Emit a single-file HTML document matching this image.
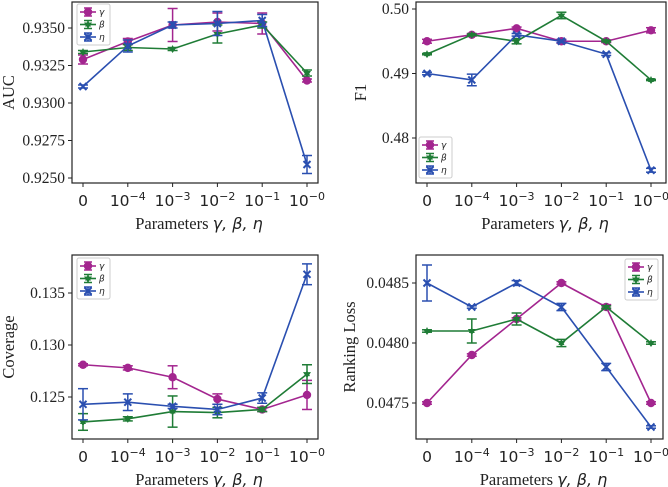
<!DOCTYPE html>
<html><head><meta charset="utf-8"><style>
html,body{margin:0;padding:0;background:#fff}
svg{display:block}
.yt{font-family:"Liberation Serif",serif;font-size:15.5px;fill:#222}
.xt{font-family:"DejaVu Sans",sans-serif;font-size:15.5px;fill:#222}
.lab{font-family:"Liberation Serif",serif;font-size:16.5px;fill:#222}
.lg{font-family:"DejaVu Sans",sans-serif;font-size:9px;font-style:italic;fill:#222}
</style></head><body>
<svg id="chart" width="668" height="487" viewBox="0 0 668 487"></svg>
<script>
const categories = ["0","-4","-3","-2","-1","-0"];
const seriesNames = ["γ","β","η"];
// AUC
const aucGamma = [0.9329,0.9341,0.9352,0.9354,0.9353,0.9315];
const aucGammaErr = [0.0003,0.0002,0.0011,0.0006,0.0007,0.0001];
const aucBeta = [0.9334,0.9337,0.9336,0.9346,0.9352,0.9320];
const aucBetaErr = [0.0001,0.0002,0.0001,0.0006,0.0002,0.0002];
const aucEta = [0.9311,0.9338,0.9352,0.9353,0.9355,0.9259];
const aucEtaErr = [0.0001,0.0004,0.0002,0.0008,0.0004,0.0006];
const aucTicks = [0.9250,0.9275,0.9300,0.9325,0.9350];
// F1
const f1Gamma = [0.495,0.496,0.497,0.495,0.495,0.4967];
const f1GammaErr = [0.0003,0.0002,0.0002,0.0003,0.0002,0.0004];
const f1Beta = [0.493,0.496,0.495,0.499,0.495,0.489];
const f1BetaErr = [0.0001,0.0001,0.0004,0.0005,0.0001,0.0001];
const f1Eta = [0.490,0.489,0.496,0.495,0.493,0.475];
const f1EtaErr = [0.0002,0.0009,0.0002,0.0002,0.0002,0.0003];
const f1Ticks = [0.48,0.49,0.50];
// Coverage
const covGamma = [0.1281,0.1278,0.1269,0.1248,0.1238,0.1252];
const covGammaErr = [0.0001,0.0002,0.0011,0.0005,0.0002,0.0014];
const covBeta = [0.1226,0.1229,0.1236,0.1235,0.1238,0.1272];
const covBetaErr = [0.0008,0.0002,0.0015,0.0005,0.0002,0.0009];
const covEta = [0.1243,0.1245,0.1241,0.1238,0.1249,0.1368];
const covEtaErr = [0.0015,0.0008,0.0002,0.0005,0.0005,0.0010];
const covTicks = [0.125,0.130,0.135];
// Ranking loss
const rlGamma = [0.0475,0.0479,0.0482,0.0485,0.0483,0.0475];
const rlGammaErr = [0.00001,0.00001,0.00001,0.00001,0.00002,0.00001];
const rlBeta = [0.0481,0.0481,0.0482,0.0480,0.0483,0.0480];
const rlBetaErr = [0.00001,0.0001,0.00005,0.00003,0.00001,0.00001];
const rlEta = [0.0485,0.0483,0.0485,0.0483,0.0478,0.0473];
const rlEtaErr = [0.00015,0.00001,0.00002,0.00003,0.00003,0.00001];
const rlTicks = [0.0475,0.0480,0.0485];

const colors = ["#a3258f","#1f7c36","#2a4fb0"];
const NS = "http://www.w3.org/2000/svg";
const svg = document.getElementById("chart");
function mk(tag, attrs, parent){const e=document.createElementNS(NS,tag);for(const k in attrs)e.setAttribute(k,attrs[k]);(parent||svg).appendChild(e);return e;}

function marker(g, kind, x, y, c){
  let m;
  if(kind===0){m=mk("circle",{cx:x,cy:y,r:4.2,fill:c},g);}
  else if(kind===1){m=mk("path",{d:`M${x-4} ${y-2}L${x+4} ${y-2}L${x} ${y+4}Z M${x} ${y-4}L${x+3} ${y+2}L${x-3} ${y+2}Z`,fill:c},g);}
  else {m=mk("path",{d:`M${x-3.5} ${y-3.5}L${x+3.5} ${y+3.5}M${x+3.5} ${y-3.5}L${x-3.5} ${y+3.5}`,stroke:c,"stroke-width":2},g);}
  return m;
}

function panel(p){
  const g = mk("g",{});
  
  
  const {L,R,T,B,x0,dx,v0,y0,v1,y1} = p;
  const X = i => x0 + i*dx;
  const Y = v => y0 + (v - v0)*(y1 - y0)/(v1 - v0);
  p.ticks.forEach(t=>{
    const y=Y(t);
    mk("line",{x1:L-4,x2:L,y1:y,y2:y,stroke:"#222","stroke-width":1},g);
    const tx=mk("text",{x:L-7,y:y+5,"text-anchor":"end",class:"yt"},g);
    tx.textContent=t.toFixed(p.dec);
    
    
  });
  categories.forEach((c,i)=>{
    const x=X(i);
    mk("line",{x1:x,x2:x,y1:B,y2:B+4,stroke:"#222","stroke-width":1},g);
    const tx=mk("text",{x:x,y:B+23,"text-anchor":"middle",class:"xt"},g);
    
    
    if(c==="0"){tx.textContent="0";}
    else{tx.textContent="10";const s=mk("tspan",{dy:-6,"font-size":"11px"},tx);s.textContent="−"+c.slice(1);}
  });
  const xl=mk("text",{x:(L+R)/2+4,y:B+46,"text-anchor":"middle",class:"lab"},g);
  
  
  xl.innerHTML='Parameters <tspan font-family="DejaVu Sans" font-style="italic" font-size="16px">γ, β, η</tspan>';
  const yl=mk("text",{x:p.ylx,y:(T+B)/2,"text-anchor":"middle",class:"lab",transform:`rotate(-90 ${p.ylx} ${(T+B)/2})`},g);
  yl.textContent=p.ylabel;
  
  
  p.series.forEach((s,k)=>{
    const c=colors[k];
    const sg=mk("g",{},g);
    
    
    const pts=s.v.map((v,i)=>X(i)+","+Y(v)).join(" ");
    mk("polyline",{points:pts,fill:"none",stroke:c,"stroke-width":1.6},sg);
    s.v.forEach((v,i)=>{
      const x=X(i),ya=Y(v+s.e[i]),yb=Y(v-s.e[i]);
      mk("line",{x1:x,x2:x,y1:ya,y2:yb,stroke:c,"stroke-width":1.5},sg);
      mk("line",{x1:x-5,x2:x+5,y1:ya,y2:ya,stroke:c,"stroke-width":1.5},sg);
      mk("line",{x1:x-5,x2:x+5,y1:yb,y2:yb,stroke:c,"stroke-width":1.5},sg);
      const m=marker(sg,k,x,Y(v),c);
      
      
    });
  });
  mk("rect",{x:L,y:T,width:R-L,height:B-T,fill:"none",stroke:"#222","stroke-width":1.2},g);
  const lg=mk("g",{},g);
  
  
  mk("rect",{x:p.lx,y:p.ly,width:33,height:41,rx:2,fill:"#fff",stroke:"#ccc","stroke-width":1},lg);
  seriesNames.forEach((n,k)=>{
    const y=p.ly+8+k*12.5, c=colors[k];
    const e=mk("g",{},lg);
    
    
    mk("line",{x1:p.lx+3,x2:p.lx+19,y1:y,y2:y,stroke:c,"stroke-width":1.6},e);
    mk("line",{x1:p.lx+11,x2:p.lx+11,y1:y-4,y2:y+4,stroke:c,"stroke-width":1.5},e);
    mk("line",{x1:p.lx+7,x2:p.lx+15,y1:y-4,y2:y-4,stroke:c,"stroke-width":1.5},e);
    mk("line",{x1:p.lx+7,x2:p.lx+15,y1:y+4,y2:y+4,stroke:c,"stroke-width":1.5},e);
    marker(e,k,p.lx+11,y,c);
    const t=mk("text",{x:p.lx+22,y:y+3,class:"lg"},e);t.textContent=n;
  });
}

panel({name:"auc",L:72,R:318,T:2,B:183,x0:83,dx:44.8,v0:0.9350,y0:28,v1:0.9250,y1:178,ticks:aucTicks,dec:4,ylabel:"AUC",ylx:14,lx:77,ly:4,
  series:[{v:aucGamma,e:aucGammaErr},{v:aucBeta,e:aucBetaErr},{v:aucEta,e:aucEtaErr}]});
panel({name:"f1",L:416,R:666,T:2,B:183,x0:427,dx:44.8,v0:0.50,y0:9,v1:0.48,y1:138,ticks:f1Ticks,dec:2,ylabel:"F1",ylx:366,lx:419,ly:137,
  series:[{v:f1Gamma,e:f1GammaErr},{v:f1Beta,e:f1BetaErr},{v:f1Eta,e:f1EtaErr}]});
panel({name:"coverage",L:72,R:318,T:255,B:439,x0:83,dx:44.8,v0:0.135,y0:293,v1:0.125,y1:397,ticks:covTicks,dec:3,ylabel:"Coverage",ylx:14,lx:77,ly:258,
  series:[{v:covGamma,e:covGammaErr},{v:covBeta,e:covBetaErr},{v:covEta,e:covEtaErr}]});
panel({name:"ranking-loss",L:416,R:663,T:255,B:439,x0:427,dx:44.8,v0:0.0485,y0:283,v1:0.0475,y1:403,ticks:rlTicks,dec:4,ylabel:"Ranking Loss",ylx:355,lx:625,ly:259,
  series:[{v:rlGamma,e:rlGammaErr},{v:rlBeta,e:rlBetaErr},{v:rlEta,e:rlEtaErr}]});
</script>
</body></html>
